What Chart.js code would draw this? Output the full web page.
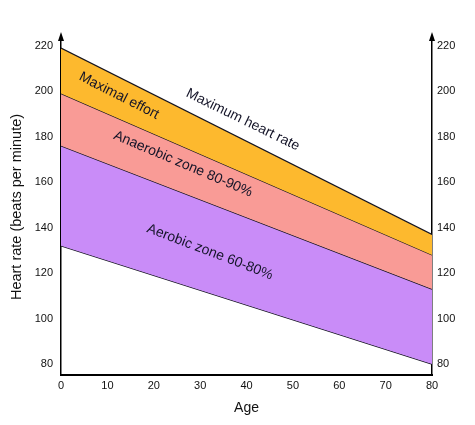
<!DOCTYPE html>
<html>
<head>
<meta charset="utf-8">
<script src="https://cdn.jsdelivr.net/npm/chart.js@4"></script>
<style>
  body { margin: 0; background: #fff; }
  canvas { display: block; }
</style>
</head>
<body>
<canvas id="hrChart" width="475" height="425"></canvas>
<script>
// values
const ages = [0, 80];
const maxHeartRate = [219, 137];
const effortLine = [199, 128];   // 90%
const anaerobicLine = [176, 113]; // 80%
const aerobicLine = [132, 80];   // 60%

const xTicks = [0, 10, 20, 30, 40, 50, 60, 70, 80];
const yTicks = [80, 100, 120, 140, 160, 180, 200, 220];

// text written along the bands: [text, age, heart rate, angle]
const bandLabels = [
  ['Maximum heart rate', 39.2, 187.4, 26],
  ['Maximal effort', 12.5, 198, 27],
  ['Anaerobic zone 80-90%', 26.3, 168, 23],
  ['Aerobic zone 60-80%', 32.1, 129.3, 21]
];

const FONT = "'Liberation Sans', Arial, sans-serif";
const toPoints = vals => ages.map((a, i) => ({ x: a, y: vals[i] }));

// arrows on top of both vertical axes + band captions
const decorations = {
  id: 'decorations',
  afterDraw(chart) {
    const { ctx, chartArea, scales } = chart;
    ctx.save();
    ctx.strokeStyle = '#000';
    ctx.fillStyle = '#000';
    ctx.lineWidth = 1.5;
    [chartArea.left, chartArea.right].forEach(x => {
      const tip = chartArea.top - 7;
      ctx.beginPath();
      ctx.moveTo(x, chartArea.top + 1);
      ctx.lineTo(x, tip + 4);
      ctx.stroke();
      ctx.beginPath();
      ctx.moveTo(x, tip);
      ctx.lineTo(x - 3, tip + 9);
      ctx.lineTo(x + 3, tip + 9);
      ctx.closePath();
      ctx.fill();
    });

    ctx.fillStyle = '#141428';
    ctx.font = '14px ' + FONT;
    ctx.textAlign = 'center';
    ctx.textBaseline = 'middle';
    bandLabels.forEach(([text, age, hr, angle]) => {
      ctx.save();
      ctx.translate(scales.x.getPixelForValue(age), scales.y.getPixelForValue(hr));
      ctx.rotate(angle * Math.PI / 180);
      ctx.fillText(text, 0, 0);
      ctx.restore();
    });
    ctx.restore();
  }
};

const yScale = (position, width, pad) => ({
  type: 'linear',
  position: position,
  min: 75.2,
  max: 223,
  afterBuildTicks: s => { s.ticks = yTicks.map(v => ({ value: v })); },
  afterFit: s => { s.width = width; },
  grid: { display: false, drawTicks: false, tickLength: 0 },
  border: { display: true, color: '#000', width: 1.5 },
  ticks: { color: '#111', font: { family: FONT, size: 11 }, padding: pad }
});

const lineSet = (vals, fill, bg) => ({
  data: toPoints(vals),
  borderColor: '#141420',
  borderWidth: 1.2,
  pointRadius: 0,
  tension: 0,
  fill: fill,
  backgroundColor: bg
});

new Chart(document.getElementById('hrChart'), {
  type: 'line',
  data: {
    datasets: [
      lineSet(maxHeartRate, '+1', '#fdb92e'),
      lineSet(effortLine, '+1', '#f99b96'),
      lineSet(anaerobicLine, '+1', '#c98cf8'),
      lineSet(aerobicLine, false, 'transparent')
    ]
  },
  options: {
    responsive: false,
    animation: false,
    devicePixelRatio: 1,
    layout: { padding: { top: 39, bottom: 0, left: 0, right: 0 } },
    plugins: { legend: { display: false }, tooltip: { enabled: false } },
    scales: {
      x: {
        type: 'linear',
        min: 0,
        max: 80,
        afterBuildTicks: s => { s.ticks = xTicks.map(v => ({ value: v })); },
        afterFit: s => { s.height = 50; },
        grid: { display: false, drawTicks: false, tickLength: 0 },
        border: { display: true, color: '#000', width: 2 },
        ticks: { color: '#111', font: { family: FONT, size: 11 }, padding: 4, maxRotation: 0 },
        title: {
          display: true, text: 'Age', color: '#111',
          font: { family: FONT, size: 14 }, padding: { top: 0, bottom: 8 }
        }
      },
      y: Object.assign(yScale('left', 61, 8), {
        title: {
          display: true, text: 'Heart rate (beats per minute)', color: '#111',
          font: { family: FONT, size: 14.5 }, padding: { top: 8, bottom: 0 }
        }
      }),
      y2: yScale('right', 43, 5)
    }
  },
  plugins: [decorations]
});
</script>
</body>
</html>
